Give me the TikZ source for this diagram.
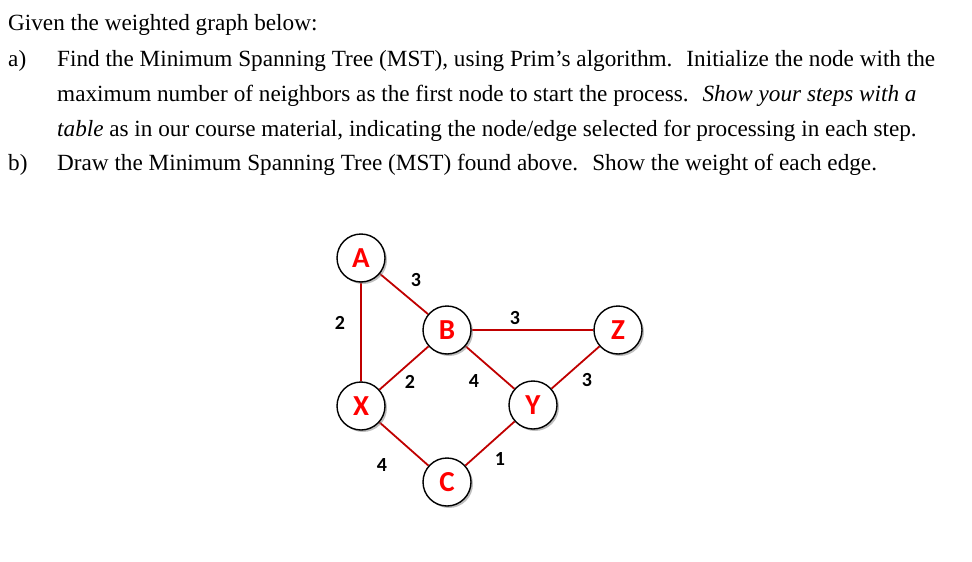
\documentclass[tikz,border=0pt]{standalone}
\usepackage{fontspec}
\setmainfont{Liberation Serif}
\newfontfamily\calfont{Carlito}
\usetikzlibrary{shadows,backgrounds}
\definecolor{edgered}{RGB}{192,0,0}
\tikzset{
  vtx/.style={circle,draw=black,line width=1.4pt,fill=white,minimum size=48pt,inner sep=0pt,
    font=\calfont\fontsize{29}{29}\selectfont\bfseries,text=red,drop shadow={shadow xshift=2pt,shadow yshift=-2pt,opacity=0.5}},
  edge/.style={draw=edgered,line width=1.8pt},
  wt/.style={font=\calfont\fontsize{20}{20}\selectfont\bfseries},
  txt/.style={anchor=base west,inner sep=0pt,font=\fontsize{23.2}{24}\selectfont}
}
\begin{document}
\begin{tikzpicture}[x=1pt,y=-1pt]
\node[txt] (t0) at (8,30) {Given the weighted graph below:};
\node[txt] (la) at (8,66) {a)};
\node[txt] (t1) at (57,66) {Find the Minimum Spanning Tree (MST), using Prim’s algorithm.\hspace{14pt}Initialize the node with the};
\node[txt] (t2) at (57,101) {maximum number of neighbors as the first node to start the process.\hspace{14pt}\textit{Show your steps with a}};
\node[txt] (t3) at (57,136) {\textit{table} as in our course material, indicating the node/edge selected for processing in each step.};
\node[txt] (lb) at (8,170) {b)};
\node[txt] (t4) at (57,170) {Draw the Minimum Spanning Tree (MST) found above.\hspace{14pt}Show the weight of each edge.};
\node[vtx] (A) at (361,258) {A};
\node[vtx] (B) at (447,330) {B};
\node[vtx] (Z) at (618,330) {Z};
\node[vtx] (X) at (361,406) {X};
\node[vtx] (Y) at (533,405) {Y};
\node[vtx] (C) at (447,482) {C};
\begin{pgfonlayer}{background}
\path[edge] (A) -- (B) (A) -- (X) (B) -- (Z) (B) -- (X) (B) -- (Y) (Z) -- (Y) (X) -- (C) (C) -- (Y);
\end{pgfonlayer}
\node[wt] (w1) at (416,280) {3};
\node[wt] (w2) at (340,323) {2};
\node[wt] (w3) at (515,318) {3};
\node[wt] (w4) at (410,382) {2};
\node[wt] (w5) at (474,381) {4};
\node[wt] (w6) at (587,380) {3};
\node[wt] (w7) at (382,465) {4};
\node[wt] (w8) at (500,459) {1};
\useasboundingbox (0,0) rectangle (972,562);
\end{tikzpicture}
\end{document}
